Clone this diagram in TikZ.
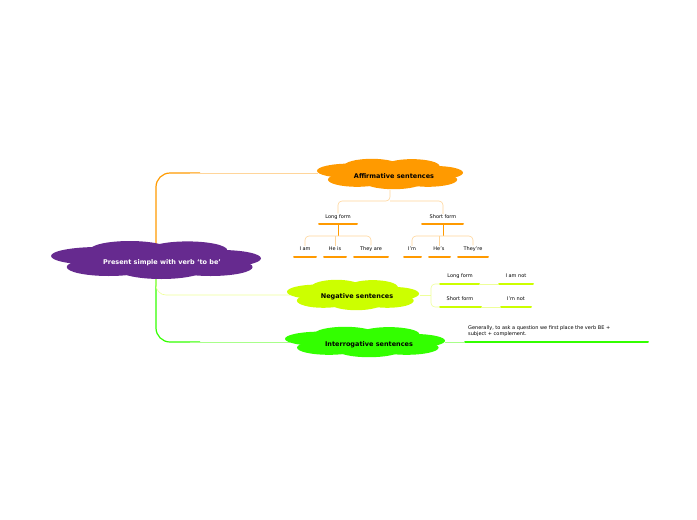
\documentclass[tikz,border=0pt]{standalone}
\usepackage{fontspec}
\setmainfont{DejaVu Sans}
\usepackage{tikz}
\definecolor{mainpurple}{HTML}{662A8F}
\definecolor{affor}{HTML}{FF9A00}
\definecolor{afflight}{HTML}{FFD59A}
\definecolor{neglime}{HTML}{CCFF00}
\definecolor{neglight}{HTML}{EEFF99}
\definecolor{intgreen}{HTML}{33FF00}
\definecolor{intlight}{HTML}{A8FF8A}
\newcommand{\mycloud}[5]{%
\begin{scope}[shift={(#1,#2)},xscale=#3,yscale=#4]
\fill[#5] (-0.55,-0.2) ellipse (0.45 and 0.45);
\fill[#5] (-0.25,-0.5) ellipse (0.38 and 0.45);
\fill[#5] (0.3,-0.48) ellipse (0.38 and 0.45);
\fill[#5] (0.62,-0.08) ellipse (0.38 and 0.42);
\fill[#5] (-0.45,0.35) ellipse (0.4 and 0.45);
\fill[#5] (0.05,0.5) ellipse (0.4 and 0.45);
\fill[#5] (0.52,0.35) ellipse (0.4 and 0.45);
\fill[#5] (0,0) ellipse (0.8 and 0.6);
\end{scope}}
\tikzset{
  leaf/.style={font=\fontsize{5}{6}\selectfont, inner sep=1pt},
  topic/.style={font=\bfseries\fontsize{6.5}{8}\selectfont, inner sep=1pt},
  bar/.style={line width=2pt, line cap=round},
  link/.style={line width=0.6pt, rounded corners=4pt}
}
\begin{document}
\begin{tikzpicture}[x=1pt,y=-1pt]
\useasboundingbox (0,0) rectangle (697,520);
% trunk connectors
\draw[affor,line width=1.2pt,rounded corners=14pt] (156,250) -- (156,173) -- (200,173);
\draw[afflight,link] (190,173) -- (318,173);
\draw[intgreen,line width=1.2pt,rounded corners=14pt] (156,270) -- (156,342) -- (200,342);
\draw[intlight,link] (190,342) -- (290,342);
\draw[neglight,link,rounded corners=10pt] (156,275) -- (156,295) -- (290,295);
% clouds
\mycloud{156}{260}{105}{20}{mainpurple}
\mycloud{390}{174}{73}{16}{affor}
\mycloud{353}{295}{66}{16}{neglime}
\mycloud{365}{342}{80}{16}{intgreen}
\node[topic,text=white] (main) at (162,263) {Present simple with verb ‘to be’};
\node[topic] (aff) at (394,176) {Affirmative sentences};
\node[topic] (neg) at (357,297) {Negative sentences};
\node[topic] (int) at (369,345) {Interrogative sentences};
% affirmative branch
\coordinate (affb) at (390,190);
\node[leaf] (long) at (338,217) {Long form};
\node[leaf] (short) at (443,217) {Short form};
\draw[affor,bar] (319,224) coordinate (lbl) -- (357,224) coordinate (lbr);
\draw[affor,bar] (422,224) coordinate (sbl) -- (463,224) coordinate (sbr);
\draw[afflight,link] (affb) -- (390,201) -| (long.north);
\draw[afflight,link] (390,201) -| (short.north);
\foreach \name/\x/\l/\r/\t in {iam/305/294/316/I am, heis/335/324/346/He is, theyare/371/354/388/They are,
  im/412/404/421/I’m, hes/439/429/450/He’s, theyre/473/458/488/They’re}{
  \node[leaf] (\name) at (\x,249) {\t};
  \draw[affor,bar] (\l,257) -- (\r,257);
}
\draw[affor,line width=0.8pt] (338,224) -- (338,236);
\draw[affor,line width=0.8pt] (443,224) -- (443,236);
\draw[afflight,link] (338,236) -| (iam.north);
\draw[afflight,link] (338,236) -| (theyare.north);
\draw[afflight,link] (335,236) -- (heis.north);
\draw[afflight,link] (443,236) -| (im.north);
\draw[afflight,link] (443,236) -| (theyre.north);
\draw[afflight,link] (439,236) -- (hes.north);
% negative branch
\node[leaf] (nlong) at (460,276) {Long form};
\node[leaf] (namnot) at (516,276) {I am not};
\node[leaf] (nshort) at (460,299) {Short form};
\node[leaf] (nimnot) at (516,299) {I’m not};
\draw[neglight,link] (420,295) -- (431,295);
\draw[neglight,link] (439,284) -| (431,307) -- (439,307);
\draw[neglight,link] (480,284) -- (498,284);
\draw[neglight,link] (482,307) -- (500,307);
\draw[neglime,bar] (440,284) -- (479,284);
\draw[neglime,bar] (499,284) -- (533,284);
\draw[neglime,bar] (440,307) -- (481,307);
\draw[neglime,bar] (501,307) -- (531,307);
% interrogative branch
\draw[intlight,link] (445,342) -- (464,342);
\node[leaf,anchor=south west,align=left] (note) at (467,338) {Generally, to ask a question we first place the verb BE +\\subject + complement.};
\draw[intgreen,bar] (465,342) -- (648,342);
\end{tikzpicture}
\end{document}
